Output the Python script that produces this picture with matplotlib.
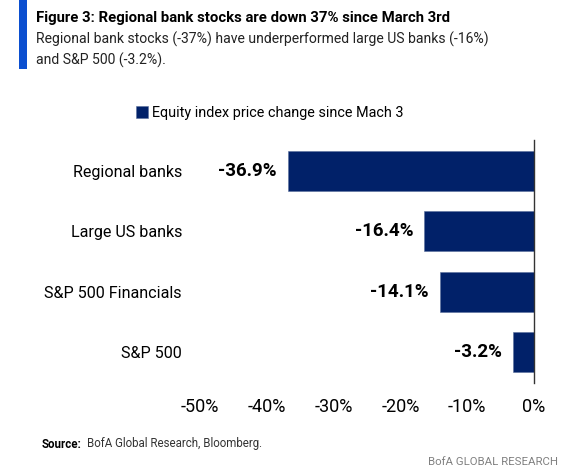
import matplotlib
matplotlib.use("Agg")
import matplotlib.pyplot as plt
from matplotlib.patches import Rectangle

categories = ["Regional banks", "Large US banks", "S&P 500 Financials", "S&P 500"]
changes = [-36.9, -16.4, -14.1, -3.2]
value_labels = ["-36.9%", "-16.4%", "-14.1%", "-3.2%"]
xticks = [-50, -40, -30, -20, -10, 0]
xtick_labels = ["-50%", "-40%", "-30%", "-20%", "-10%", "0%"]

title = "Figure 3: Regional bank stocks are down 37% since March 3rd"
subtitle = ("Regional bank stocks (-37%) have underperformed large US banks (-16%)\n"
            "and S&P 500 (-3.2%).")
legend_label = "Equity index price change since Mach 3"

NAVY = "#012169"
plt.rcParams["font.family"] = ["Roboto", "DejaVu Sans"]

W, H = 587, 475
fig = plt.figure(figsize=(W / 100, H / 100), dpi=100)

def fx(px):
    return px / W

def fy(py):
    return 1 - py / H

# blue marker bar next to title
fig.patches.append(Rectangle((fx(19), fy(69)), fx(8), 69 / H, transform=fig.transFigure,
                             facecolor="#0b4fd0", edgecolor="none"))
fig.text(fx(36), fy(18), title, fontsize=10.7, fontweight="bold", va="center", ha="left")
fig.text(fx(36), fy(50), subtitle, fontsize=10.1, va="center", ha="left",
         color="#222222", linespacing=1.45)

ax = fig.add_axes([fx(200), fy(383), fx(534) - fx(200), (383 - 140) / H])
y = list(range(len(categories)))
ax.barh(y, changes, height=0.66, color=NAVY, edgecolor="#5a6f9c", linewidth=0.4,
        label=legend_label)
for yi, v, lab in zip(y, changes, value_labels):
    ax.annotate(lab, (v, yi), xytext=(-8, 0), textcoords="offset points",
                ha="right", va="center", fontsize=13.5, fontweight="bold")

ax.set_xlim(-50, 0)
ax.set_ylim(3.51, -0.51)
ax.set_yticks(y)
ax.set_yticklabels(categories, fontsize=11.6)
ax.set_xticks(xticks)
ax.set_xticklabels(xtick_labels, fontsize=13)
ax.tick_params(axis="y", length=0, pad=13)
ax.tick_params(axis="x", length=0, pad=11)
for s in ["top", "bottom", "left"]:
    ax.spines[s].set_visible(False)
ax.spines["right"].set_color("#333333")
ax.spines["right"].set_linewidth(1.0)

ax.legend(loc="center", bbox_to_anchor=(fx(270), fy(113)), bbox_transform=fig.transFigure,
          frameon=False, fontsize=10.4, handlelength=0.8, handleheight=0.8,
          handletextpad=0.3)

fig.text(fx(42), fy(444), "Source:", fontsize=8.3, fontweight="bold", va="center")
fig.text(fx(87), fy(444), "BofA Global Research, Bloomberg.", fontsize=8.3,
         va="center", color="#333333")
fig.text(fx(558), fy(462), "BofA GLOBAL RESEARCH", fontsize=8.2, va="center",
         ha="right", color="#808080")

fig.savefig("out.png", dpi=100)
